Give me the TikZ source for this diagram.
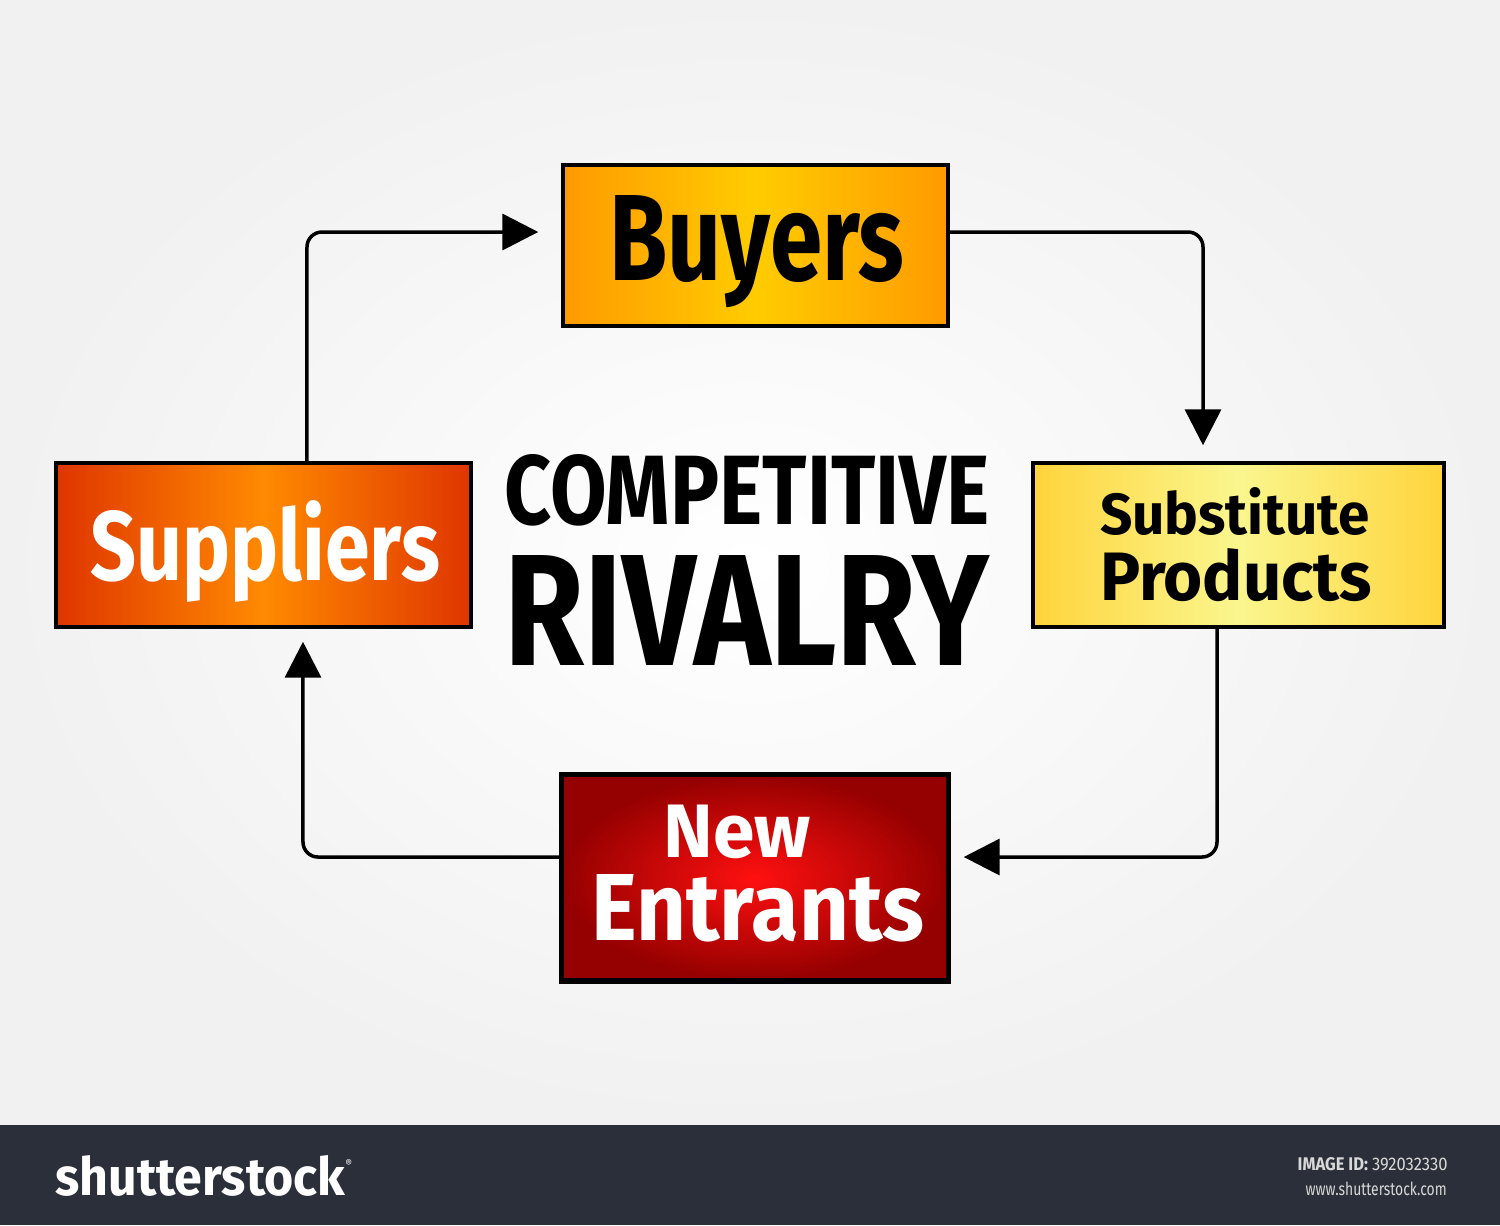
\documentclass[tikz,border=0pt]{standalone}
\usepackage{fontspec}
\setmainfont{Fira Sans}
\usetikzlibrary{arrows.meta}
\definecolor{bgedge}{HTML}{F1F1F1}
\definecolor{footer}{HTML}{2A2F39}
\definecolor{buyE}{HTML}{FF9A00}
\definecolor{buyC}{HTML}{FFCC00}
\definecolor{subE}{HTML}{FFD43C}
\definecolor{subC}{HTML}{FAF68E}
\definecolor{supE}{HTML}{DF3500}
\definecolor{supC}{HTML}{FF8A00}
\definecolor{newE}{HTML}{950000}
\definecolor{newC}{HTML}{FF1010}
\definecolor{foottext}{HTML}{D8D8D8}
\tikzset{
  box/.style={draw=black, line width=0.07cm, rectangle, inner sep=0pt},
  lbl/.style={anchor=base, inner sep=0pt, font=\bfseries},
  flow/.style={line width=0.07cm, rounded corners=0.3cm, line join=round,
    -{Triangle[length=0.72cm,width=0.72cm]}},
}
\begin{document}
\begin{tikzpicture}[x=0.02cm,y=-0.02cm]
\useasboundingbox (0,0) rectangle (1500,1225);
% background
\shade[inner color=white, outer color=bgedge] (0,0) rectangle (1500,1125);
\fill[footer] (0,1125) rectangle (1500,1225);

% boxes
\node[box, minimum width=7.70cm, minimum height=3.22cm,
  left color=buyE, right color=buyE, middle color=buyC] (buy) at (755.5,245.5) {};
\node[box, minimum width=8.22cm, minimum height=3.28cm,
  left color=subE, right color=subE, middle color=subC] (sub) at (1238.5,545) {};
\node[box, minimum width=8.30cm, minimum height=3.28cm,
  left color=supE, right color=supE, middle color=supC] (sup) at (263.5,545) {};
\node[box, minimum width=7.72cm, minimum height=4.10cm,
  inner color=newC, outer color=newE] (new) at (755,877.5) {};
\draw[box, fill=none] (new.south west) rectangle (new.north east);

% labels
\node[lbl] (buyT) at (757,280) {\resizebox{5.9cm}{1.7cm}{Buyers}};
\node[lbl] (subT1) at (1235,534) {\resizebox{5.4cm}{0.94cm}{Substitute}};
\node[lbl] (subT2) at (1236,600) {\resizebox{5.44cm}{1.04cm}{Products}};
\node[lbl, text=white] (supT) at (265,580) {\resizebox{7.0cm}{1.6cm}{Suppliers}};
\node[lbl, text=white] (newT1) at (737,857) {\resizebox{2.94cm}{1.05cm}{New}};
\node[lbl, text=white] (newT2) at (758,940) {\resizebox{6.66cm}{1.32cm}{Entrants}};
\node[lbl] (comp) at (747,524) {\resizebox{9.7cm}{1.4cm}{COMPETITIVE}};
\node[lbl] (riv) at (747,665) {\resizebox{9.7cm}{2.2cm}{RIVALRY}};

% connectors
\draw[flow] ([xshift=0.87cm]sup.north) |- ([xshift=-0.46cm,yshift=0.27cm]buy.west);
\draw[flow] ([yshift=0.27cm]buy.east) -| ([xshift=-0.71cm,yshift=0.32cm]sub.north);
\draw[flow] ([xshift=-0.43cm]sub.south) |- ([xshift=0.28cm,yshift=0.41cm]new.east);
\draw[flow] ([yshift=0.41cm]new.west) -| ([xshift=0.79cm,yshift=-0.26cm]sup.south);

% footer
\node[anchor=base west, inner sep=0pt, text=white] (logo) at (55,1195)
  {\resizebox{5.8cm}{0.8cm}{\bfseries shutterstock}\raisebox{0.55cm}{\fontsize{6}{6}\selectfont ®}};
\node[anchor=base east, inner sep=0pt, text=foottext] (imgid) at (1448,1170)
  {\resizebox{3.0cm}{0.26cm}{\bfseries IMAGE ID: \mdseries 392032330}};
\node[anchor=base east, inner sep=0pt, text=foottext] (url) at (1447,1195)
  {\resizebox{2.82cm}{0.27cm}{www.shutterstock.com}};
\end{tikzpicture}
\end{document}
